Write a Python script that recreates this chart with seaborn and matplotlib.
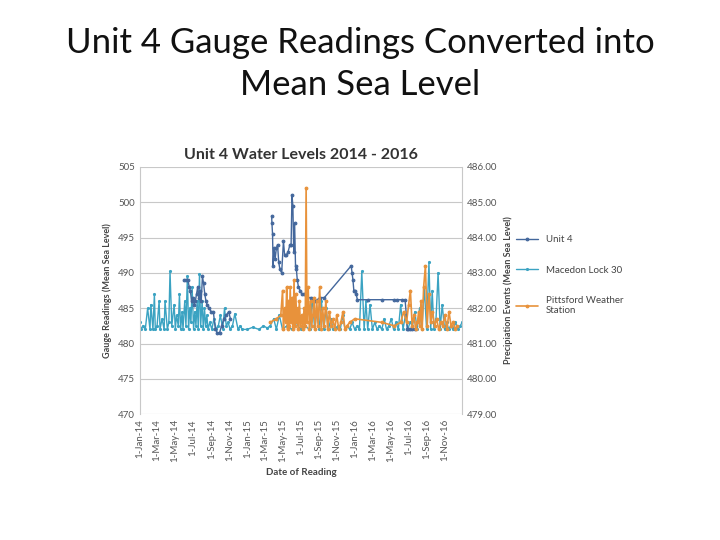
import pandas as pd
import seaborn as sns
import matplotlib.pyplot as plt
import matplotlib.dates as mdates

sns.set_style("white")
plt.rcParams['font.family'] = ['Lato', 'DejaVu Sans']

# Unit 4 (left axis)
u4_dates = ['2014-06-01', '2014-06-08', '2014-06-14', '2014-06-18', '2014-06-22', '2014-06-26',
            '2014-07-01', '2014-07-05', '2014-07-09', '2014-07-13', '2014-07-17', '2014-07-21',
            '2014-07-25', '2014-07-29', '2014-08-02', '2014-08-06', '2014-08-10', '2014-08-14',
            '2014-08-18', '2014-08-24', '2014-09-01', '2014-09-08', '2014-09-15', '2014-09-22',
            '2014-09-29', '2014-10-06', '2014-10-14', '2014-10-22', '2014-10-30', '2014-11-05',
            '2015-03-25', '2015-03-26', '2015-03-28', '2015-03-30', '2015-04-02', '2015-04-06',
            '2015-04-10', '2015-04-14', '2015-04-18', '2015-04-22', '2015-04-28', '2015-05-04',
            '2015-05-08', '2015-05-14', '2015-05-20', '2015-05-26', '2015-05-30', '2015-06-02',
            '2015-06-05', '2015-06-08', '2015-06-11', '2015-06-14', '2015-06-17', '2015-06-20',
            '2015-06-24', '2015-06-30', '2015-07-06', '2015-07-14', '2015-07-24', '2015-08-05',
            '2015-08-20', '2015-09-05', '2015-09-20', '2015-12-20', '2015-12-23', '2015-12-26',
            '2015-12-29', '2016-01-02', '2016-01-06', '2016-01-10', '2016-02-15', '2016-04-01',
            '2016-05-15', '2016-05-25', '2016-06-10', '2016-06-20', '2016-06-28', '2016-07-01',
            '2016-07-08', '2016-07-15', '2016-07-22']
u4_vals = [489, 489, 489, 488, 487.5, 486, 486.5, 485.5, 486, 487, 488, 486.5,
           487.5, 486, 489.5, 488.5, 487, 486, 485.5, 485, 484.5, 484.5, 482, 481.5,
           481.5, 482.5, 483.5, 484, 484.5, 483.5,
           498, 497, 495.5, 491, 493.5, 492, 493.5, 494, 491.5, 490.5, 490, 494.5,
           492.5, 492.5, 493, 494, 494, 501, 499.5, 493, 497, 491, 490.5, 489,
           488, 487.5, 487, 487, 486.5, 486.5, 486, 486.5, 486.5, 491, 490, 489,
           487.5, 487.5, 487, 486.2, 486.2, 486.2, 486.2, 486.2, 486.2, 486.2, 482,
           482, 482, 482, 482]
u4_break = 30  # readings paused over winter 2014-15

# Macedon Lock 30 (left axis)
mac_dates = ['2014-01-01', '2014-01-05', '2014-01-12', '2014-01-20', '2014-01-28', '2014-02-05',
             '2014-02-08', '2014-02-15', '2014-02-20', '2014-02-23', '2014-03-01', '2014-03-08',
             '2014-03-11', '2014-03-18', '2014-03-25', '2014-03-28', '2014-04-05', '2014-04-10',
             '2014-04-14', '2014-04-20', '2014-04-28', '2014-05-02', '2014-05-06', '2014-05-12',
             '2014-05-16', '2014-05-20', '2014-05-25', '2014-05-28', '2014-06-03', '2014-06-07',
             '2014-06-12', '2014-06-16', '2014-06-20', '2014-06-24', '2014-06-28', '2014-07-03',
             '2014-07-07', '2014-07-11', '2014-07-15', '2014-07-19', '2014-07-23', '2014-07-27',
             '2014-08-01', '2014-08-05', '2014-08-09', '2014-08-13', '2014-08-17', '2014-08-21',
             '2014-08-27', '2014-09-03', '2014-09-10', '2014-09-18', '2014-09-25', '2014-10-02',
             '2014-10-10', '2014-10-16', '2014-10-22', '2014-10-28', '2014-11-04', '2014-11-12',
             '2014-11-20', '2014-12-01', '2014-12-08', '2014-12-15', '2015-01-01', '2015-01-20',
             '2015-02-10', '2015-02-25', '2015-03-10', '2015-03-20', '2015-04-01', '2015-04-10',
             '2015-04-20', '2015-05-01', '2015-05-15', '2015-06-01', '2015-06-15', '2015-07-01',
             '2015-07-15', '2015-08-01', '2015-08-10', '2015-08-18', '2015-08-25', '2015-09-02',
             '2015-09-10', '2015-09-18', '2015-09-26', '2015-10-04', '2015-10-12', '2015-10-20',
             '2015-10-28', '2015-11-05', '2015-11-13', '2015-11-21', '2015-11-29', '2015-12-07',
             '2015-12-15', '2015-12-23', '2016-01-01', '2016-01-09', '2016-01-17', '2016-01-25',
             '2016-02-02', '2016-02-08', '2016-02-14', '2016-02-22', '2016-03-01', '2016-03-09',
             '2016-03-17', '2016-03-25', '2016-04-02', '2016-04-10', '2016-04-18', '2016-04-26',
             '2016-05-04', '2016-05-12', '2016-05-20', '2016-05-28', '2016-06-05', '2016-06-13',
             '2016-06-21', '2016-06-29', '2016-07-07', '2016-07-15', '2016-07-23', '2016-07-31',
             '2016-08-08', '2016-08-16', '2016-08-24', '2016-09-01', '2016-09-09', '2016-09-15',
             '2016-09-20', '2016-09-26', '2016-10-03', '2016-10-10', '2016-10-17', '2016-10-24',
             '2016-11-01', '2016-11-08', '2016-11-15', '2016-11-22', '2016-11-30', '2016-12-08',
             '2016-12-16', '2016-12-24', '2016-12-31']
mac_vals = [483, 482, 482.5, 482, 485, 482, 485.5, 482, 487, 482, 482.5, 486,
            482, 483.5, 482, 486, 482, 483, 490.2, 482.5, 485.5, 482, 484, 482.5,
            487, 482, 484.5, 482, 486, 482.5, 489.5, 482, 485, 483, 488, 482,
            484.5, 482.5, 486, 482, 489.8, 482.5, 486, 482, 485, 482.5, 484, 482,
            483, 482, 483.5, 482, 482.5, 484, 482, 485, 482.5, 483, 482, 482.5,
            484.2, 482, 482.5, 482, 482, 482.3, 482, 482.5, 482.2, 482.5, 483.5, 482,
            484, 482, 482.5, 482, 483, 482, 482.5, 482, 486.5, 482, 484.5, 482,
            486, 482, 485, 482, 483.5, 482, 482.2, 482.5, 482, 484, 482, 482.5,
            482, 483, 482, 482.5, 482, 490.2, 482, 486, 482, 485.5, 482, 483,
            482, 482.5, 482, 483.5, 482, 482.5, 483.5, 482, 483, 482, 485.5, 482,
            484, 482, 483, 482.5, 484.5, 482, 485, 482, 488, 482, 491.5, 482,
            487.5, 482, 483.5, 490, 482, 485.5, 482, 483, 482, 482.5, 482, 483,
            482, 482.5, 483]

# Pittsford Weather Station (right axis)
pit_dates = ['2015-03-20', '2015-04-10', '2015-04-25', '2015-05-01', '2015-05-04', '2015-05-08',
             '2015-05-12', '2015-05-15', '2015-05-18', '2015-05-21', '2015-05-24', '2015-05-27',
             '2015-05-30', '2015-06-03', '2015-06-06', '2015-06-09', '2015-06-12', '2015-06-15',
             '2015-06-18', '2015-06-21', '2015-06-24', '2015-06-27', '2015-07-01', '2015-07-05',
             '2015-07-09', '2015-07-13', '2015-07-17', '2015-07-20', '2015-07-23', '2015-07-27',
             '2015-07-31', '2015-08-04', '2015-08-08', '2015-08-12', '2015-08-16', '2015-08-20',
             '2015-08-25', '2015-08-30', '2015-09-04', '2015-09-09', '2015-09-14', '2015-09-19',
             '2015-09-25', '2015-10-01', '2015-10-07', '2015-10-13', '2015-10-19', '2015-10-25',
             '2015-11-01', '2015-11-08', '2015-11-15', '2015-11-22', '2015-11-29', '2015-12-06',
             '2015-12-15', '2016-01-01', '2016-04-01', '2016-05-15', '2016-06-05', '2016-06-15',
             '2016-06-25', '2016-07-02', '2016-07-08', '2016-07-14', '2016-07-20', '2016-07-26',
             '2016-08-01', '2016-08-05', '2016-08-09', '2016-08-13', '2016-08-17', '2016-08-22',
             '2016-08-28', '2016-09-03', '2016-09-09', '2016-09-15', '2016-09-21', '2016-09-28',
             '2016-10-05', '2016-10-12', '2016-10-19', '2016-10-26', '2016-11-02', '2016-11-09',
             '2016-11-16', '2016-11-23', '2016-11-30', '2016-12-07', '2016-12-14']
pit_vals = [481.6, 481.7, 481.8, 482.5, 481.4, 482.0, 481.6, 482.6, 481.4, 482.2, 481.5, 482.6,
            481.6, 482.3, 481.4, 482.8, 481.5, 482.4, 481.6, 482.0, 481.4, 482.2, 481.5, 481.8,
            481.4, 482.0, 481.5, 485.4, 481.6, 482.6, 481.4, 482.2, 481.5, 481.8, 482.3, 481.4,
            482.2, 481.5, 482.6, 481.4, 482.0, 481.5, 482.2, 481.4, 481.9, 481.5, 481.7, 481.4,
            481.8, 481.4, 481.6, 481.9, 481.4, 481.5, 481.6, 481.7, 481.6, 481.5, 481.6, 481.9,
            481.6, 482.1, 482.5, 481.5, 481.8, 481.4, 481.6, 481.9, 481.5, 482.2, 481.4, 482.6,
            483.2, 481.5, 482.4, 481.6, 481.9, 481.5, 481.7, 481.4, 481.6, 481.5, 481.8, 481.4,
            481.9, 481.5, 481.6, 481.4, 481.5]

u4 = pd.DataFrame({'date': pd.to_datetime(u4_dates), 'level': u4_vals})
mac = pd.DataFrame({'date': pd.to_datetime(mac_dates), 'level': mac_vals})
pit = pd.DataFrame({'date': pd.to_datetime(pit_dates), 'level': pit_vals})

c_u4, c_mac, c_pit = '#43679c', '#3ba3c2', '#e8923b'

fig = plt.figure(figsize=(7.2, 5.4), dpi=100)
fig.text(0.5, 0.95, 'Unit 4 Gauge Readings Converted into\nMean Sea Level', ha='center', va='top',
         fontsize=25, linespacing=1.4, color='#111111')

ax = fig.add_axes([0.194, 0.233, 0.448, 0.458])
sns.lineplot(data=mac, x='date', y='level', ax=ax, color=c_mac, lw=1, marker='.', ms=3,
             mec=c_mac, label='Macedon Lock 30', legend=False)
sns.lineplot(data=u4.iloc[:u4_break], x='date', y='level', ax=ax, color=c_u4, lw=1, marker='.',
             ms=4, mec=c_u4, label='Unit 4', legend=False)
sns.lineplot(data=u4.iloc[u4_break:], x='date', y='level', ax=ax, color=c_u4, lw=1, marker='.',
             ms=4, mec=c_u4, legend=False)
ax2 = ax.twinx()
sns.lineplot(data=pit, x='date', y='level', ax=ax2, color=c_pit, lw=1.2, marker='.', ms=4,
             mec=c_pit, label='Pittsford Weather\nStation', legend=False)

ax.set_ylim(470, 505)
ax.set_yticks(range(470, 506, 5))
ax2.set_ylim(479, 486)
ax2.set_yticks(range(479, 487))
ax2.set_yticklabels([f'{v:.2f}' for v in range(479, 487)])
ax.set_xlim(pd.Timestamp('2014-01-01'), pd.Timestamp('2016-12-31'))
ax.xaxis.set_major_locator(mdates.MonthLocator(bymonth=[1, 3, 5, 7, 9, 11]))
ax.xaxis.set_major_formatter(mdates.DateFormatter('1-%b-%y'))
ax.yaxis.grid(True, color='#c8c8c8', lw=0.8)
for a in (ax, ax2):
    a.tick_params(labelsize=7, colors='#555555', length=0)
    for s in a.spines.values():
        s.set_visible(False)
ax.spines['left'].set_visible(True)
ax.spines['left'].set_color('#c8c8c8')
ax2.spines['right'].set_visible(True)
ax2.spines['right'].set_color('#c8c8c8')
plt.setp(ax.get_xticklabels(), rotation=90)
ax.set_xlabel('Date of Reading', fontsize=7, fontweight='bold', color='#444444')
ax.set_ylabel('Gauge Readings (Mean Sea Level)', fontsize=6.5, fontweight='bold', color='#444444')
ax2.set_ylabel('Precipiation Events (Mean Sea Level)', fontsize=6.5, fontweight='bold', color='#444444')
ax.set_title('Unit 4 Water Levels 2014 - 2016', fontsize=11.5, fontweight='bold', color='#333333', pad=6)

h1, l1 = ax.get_legend_handles_labels()
h2, l2 = ax2.get_legend_handles_labels()
order = [1, 0]
fig.legend([h1[i] for i in order] + h2, [l1[i] for i in order] + l2, loc='center left',
           bbox_to_anchor=(0.705, 0.49), frameon=False, fontsize=7, labelspacing=2.2,
           handlelength=2.2, labelcolor='#444444')

fig.savefig('out.png', dpi=100)
